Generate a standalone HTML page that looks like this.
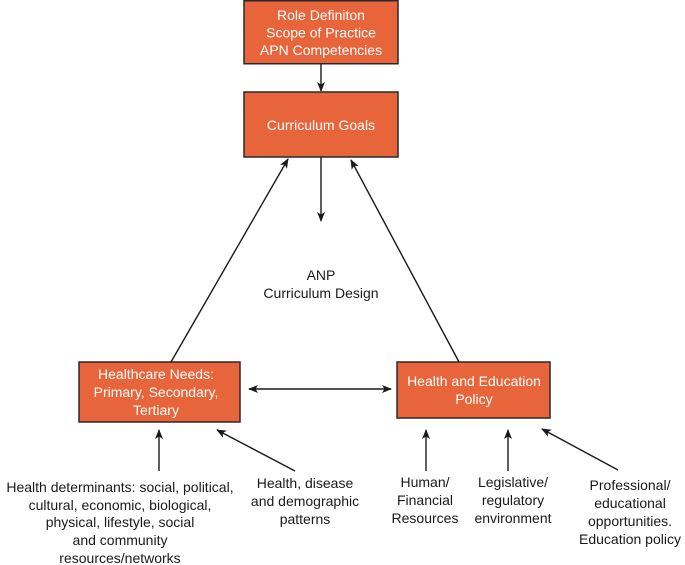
<!DOCTYPE html>
<html><head><meta charset="utf-8"><style>
html,body{margin:0;padding:0;background:#fff;}
svg{display:block;}
text{font-family:"Liberation Sans",Arial,sans-serif;font-size:14px;text-anchor:middle;dominant-baseline:central;}
.w{fill:#fff;}
.b{fill:#1a1a1a;}
rect{fill:#E8643A;stroke:#2a2a2a;stroke-width:1.5;}
line{stroke:#1a1a1a;stroke-width:1.4;}
</style></head><body>
<svg width="685" height="565" viewBox="0 0 685 565" xmlns="http://www.w3.org/2000/svg">
<defs>
<marker id="a" markerWidth="10" markerHeight="8" refX="9" refY="4" orient="auto" markerUnits="userSpaceOnUse">
<path d="M0,0 L10,4 L0,8 L2.5,4 z" fill="#1a1a1a"/>
</marker>
</defs>
<rect x="244" y="0.75" width="154" height="63"/>
<text class="w" x="321" y="15">Role Definiton</text>
<text class="w" x="321" y="32.5">Scope of Practice</text>
<text class="w" x="321" y="50">APN Competencies</text>

<rect x="244" y="92" width="154" height="65"/>
<text class="w" x="321" y="125">Curriculum Goals</text>

<rect x="79" y="362" width="161" height="60"/>
<text class="w" x="156" y="374">Healthcare Needs:</text>
<text class="w" x="156" y="392">Primary, Secondary,</text>
<text class="w" x="156" y="410">Tertiary</text>

<rect x="397" y="362" width="153" height="56"/>
<text class="w" x="474" y="381">Health and Education</text>
<text class="w" x="474" y="399">Policy</text>

<line x1="321" y1="64" x2="321" y2="91" marker-end="url(#a)"/>
<line x1="321" y1="157" x2="321" y2="221" marker-end="url(#a)"/>
<line x1="171" y1="362" x2="288" y2="159" marker-end="url(#a)"/>
<line x1="459" y1="362" x2="351" y2="160" marker-end="url(#a)"/>
<line x1="300" y1="389" x2="249" y2="389" marker-end="url(#a)"/>
<line x1="300" y1="389" x2="391" y2="389" marker-end="url(#a)"/>

<text class="b" x="321" y="275">ANP</text>
<text class="b" x="321" y="293">Curriculum Design</text>

<line x1="159" y1="471" x2="159" y2="430" marker-end="url(#a)"/>
<line x1="295" y1="471" x2="217" y2="430" marker-end="url(#a)"/>
<line x1="426" y1="471" x2="426" y2="430" marker-end="url(#a)"/>
<line x1="508" y1="471" x2="508" y2="430" marker-end="url(#a)"/>
<line x1="618" y1="470" x2="542" y2="429" marker-end="url(#a)"/>

<text class="b" x="120" y="487">Health determinants: social, political,</text>
<text class="b" x="120" y="505">cultural, economic, biological,</text>
<text class="b" x="120" y="522">physical, lifestyle, social</text>
<text class="b" x="120" y="540">and community</text>
<text class="b" x="120" y="558">resources/networks</text>

<text class="b" x="305" y="483">Health, disease</text>
<text class="b" x="305" y="501">and demographic</text>
<text class="b" x="305" y="519">patterns</text>

<text class="b" x="425" y="482">Human/</text>
<text class="b" x="425" y="500">Financial</text>
<text class="b" x="425" y="518">Resources</text>

<text class="b" x="513" y="482">Legislative/</text>
<text class="b" x="513" y="500">regulatory</text>
<text class="b" x="513" y="518">environment</text>

<text class="b" x="630" y="485">Professional/</text>
<text class="b" x="630" y="503">educational</text>
<text class="b" x="630" y="521">opportunities.</text>
<text class="b" x="630" y="539">Education policy</text>
</svg>
</body></html>
